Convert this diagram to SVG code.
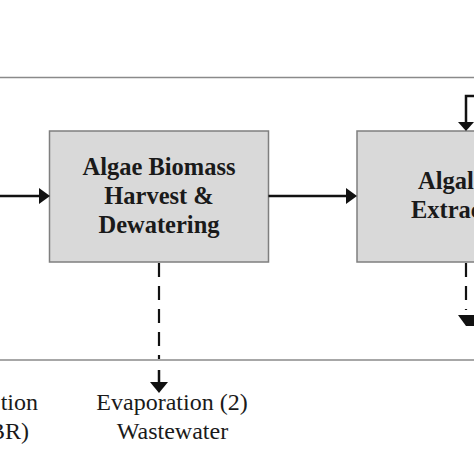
<svg xmlns="http://www.w3.org/2000/svg" width="474" height="474" viewBox="0 0 474 474">
<defs>
<style>
.box{fill:#d9d9d9;stroke:#7f7f7f;stroke-width:1.5}
.bt{font-family:"Liberation Serif","Times New Roman",serif;font-weight:bold;font-size:24.5px;fill:#1a1a1a;text-anchor:middle}
.lt{font-family:"Liberation Serif","Times New Roman",serif;font-size:24px;fill:#1a1a1a}
.sep{stroke:#8a8a8a;stroke-width:1.5;fill:none}
.ln{stroke:#111;stroke-width:2.5;fill:none}
.dl{stroke:#111;stroke-width:2.2;fill:none;stroke-dasharray:14 9}
.ah{fill:#111}
</style>
</defs>
<rect width="474" height="474" fill="#fff"/>
<line class="sep" x1="0" y1="77.5" x2="474" y2="77.5"/>
<line class="sep" x1="0" y1="360" x2="474" y2="360"/>
<g id="node-harvest">
<rect class="box" x="49.5" y="131" width="219" height="131"/>
<text class="bt" x="159" y="175">Algae Biomass</text>
<text class="bt" x="159" y="204">Harvest &amp;</text>
<text class="bt" x="159" y="233">Dewatering</text>
</g>
<g id="node-extraction">
<rect class="box" x="357" y="131" width="130" height="131"/>
<text class="bt" x="418" y="189" style="text-anchor:start">Algal</text>
<text class="bt" x="411" y="218" style="text-anchor:start">Extrac</text>
</g>
<g id="label-left">
<text class="lt" x="38" y="410" text-anchor="end">tion</text>
<text class="lt" x="29" y="439" text-anchor="end">BR)</text>
</g>
<g id="label-evaporation">
<text class="lt" x="172" y="410" text-anchor="middle">Evaporation (2)</text>
<text class="lt" x="172.5" y="439" text-anchor="middle">Wastewater</text>
</g>
<g id="connectors">
<line class="ln" x1="0" y1="196" x2="40" y2="196"/>
<polygon class="ah" points="39,188 50,196 39,204"/>
<line class="ln" x1="268.5" y1="196" x2="347" y2="196"/>
<polygon class="ah" points="346,188 357,196 346,204"/>
<line class="dl" x1="159" y1="263" x2="159" y2="359"/>
<line class="ln" x1="159" y1="370" x2="159" y2="384"/>
<polygon class="ah" points="150,382 168,382 159,393"/>
<polyline class="ln" points="474,96 466,96 466,123"/>
<polygon class="ah" points="458,122 474,122 466,131"/>
<line class="dl" x1="466" y1="263" x2="466" y2="310"/>
<polygon class="ah" points="458,315 474,315 474,326 466,326"/>
</g>
</svg>
